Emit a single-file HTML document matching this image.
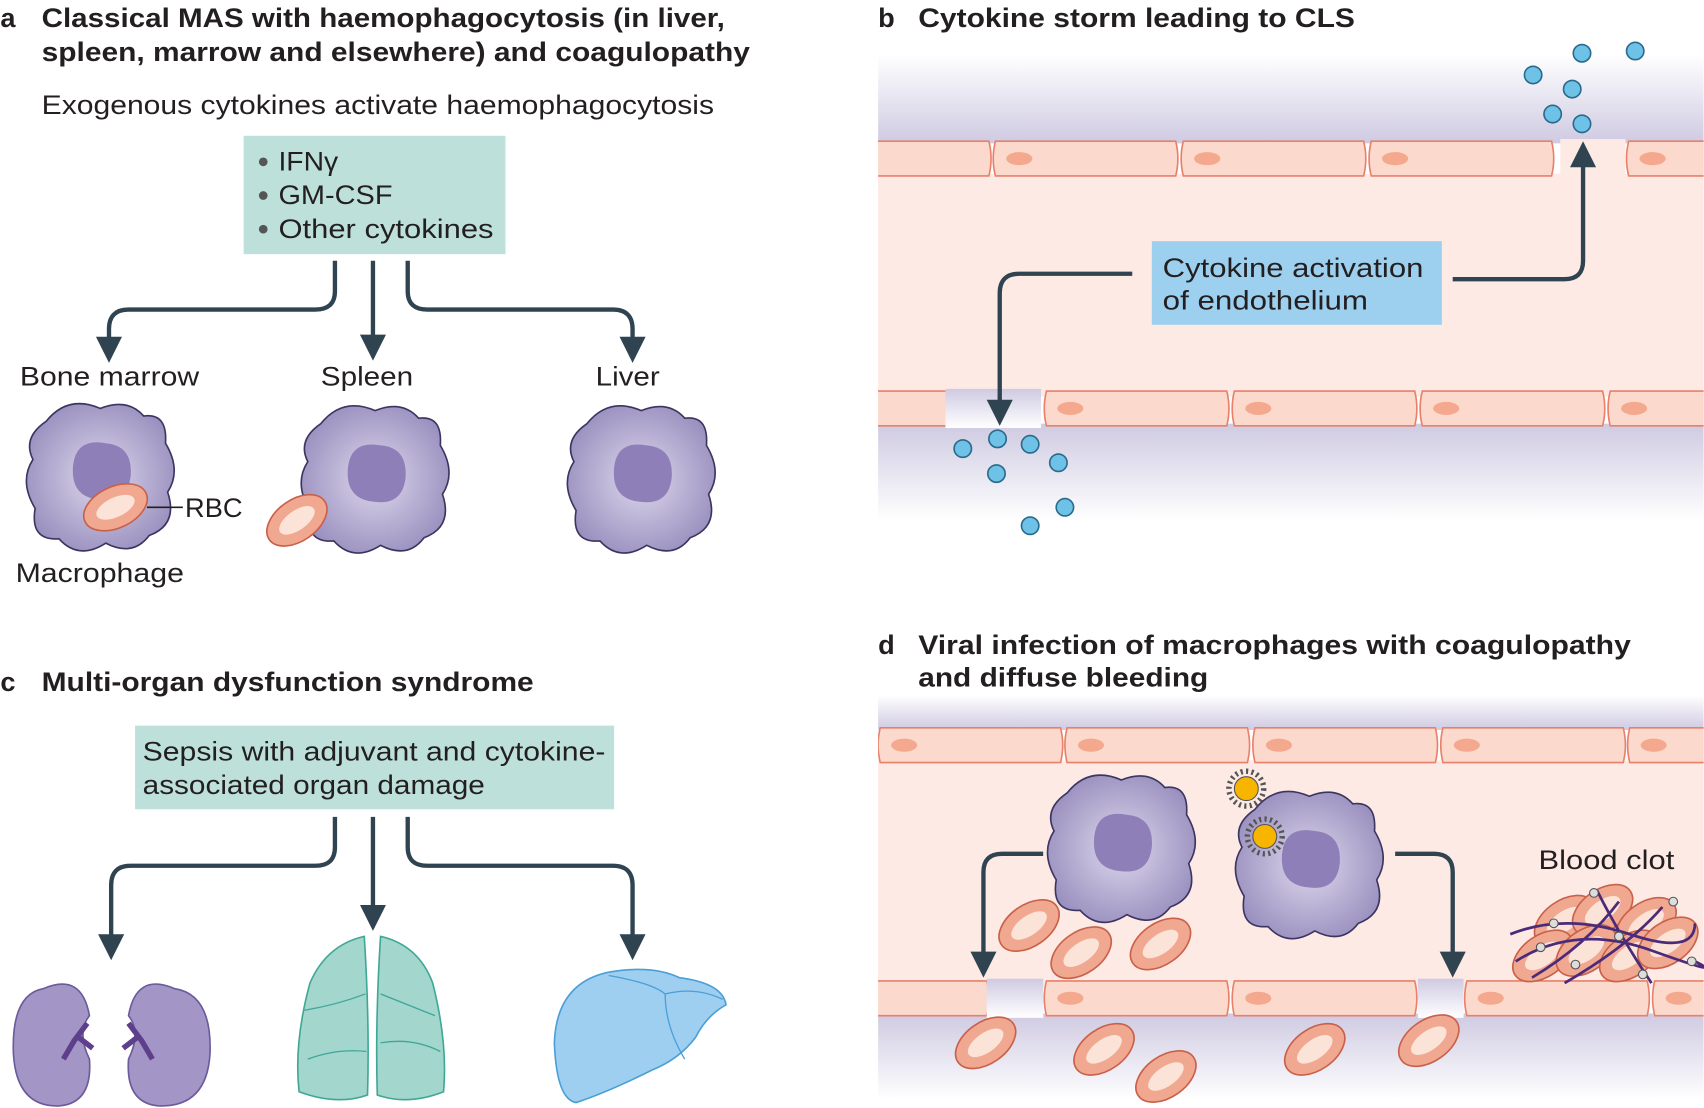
<!DOCTYPE html>
<html><head><meta charset="utf-8"><style>
html,body{margin:0;padding:0;background:#fff;width:1704px;height:1108px;overflow:hidden}
svg{display:block}
text{font-family:"Liberation Sans",sans-serif;fill:#231f20}
.t{font-size:25px;font-weight:bold}
.n{font-size:25px}
.ar{fill:none;stroke:#2f4450;stroke-width:4}
</style></head><body>
<svg width="1704" height="1108" viewBox="0 0 1568 1020" xmlns="http://www.w3.org/2000/svg">
<defs>
<clipPath id="vc"><rect x="808" y="0" width="760" height="1020"/></clipPath>
<radialGradient id="mg" cx="50%" cy="50%" r="55%"><stop offset="0" stop-color="#ddd8ec"/><stop offset="1" stop-color="#9a90bf"/></radialGradient>
<linearGradient id="topg" x1="0" y1="0" x2="0" y2="1"><stop offset="0" stop-color="#fff"/><stop offset="1" stop-color="#cfcae2"/></linearGradient>
<linearGradient id="botg" x1="0" y1="0" x2="0" y2="1"><stop offset="0" stop-color="#cfcae2"/><stop offset="1" stop-color="#fff"/></linearGradient>
<path id="blob" d="M-50,-50 Q-30,-75 0,-62 Q25,-72 40,-55 Q62,-58 60,-30 Q75,-5 62,15 Q72,45 45,55 Q30,75 5,62 Q-20,78 -38,58 Q-65,60 -60,30 Q-75,5 -62,-15 Q-72,-35 -50,-50Z" fill="url(#mg)" stroke="#3b3560" stroke-width="1.5"/>
<g id="mac"><use href="#blob"/><path d="M-25,-10 Q-22,-35 5,-30 Q30,-28 28,0 Q25,25 0,22 Q-28,20 -25,-10Z" fill="#8f7fb8"/></g>
<g id="rbc"><ellipse rx="31" ry="19" fill="#f0a890" stroke="#c9604a" stroke-width="1.5"/><ellipse rx="19" ry="9" fill="#fbe3d8"/></g>
<g id="cell"><path d="M2,0 H168 Q172,16 168,32 H2 Q-2,16 2,0Z" fill="#fbd9cc" stroke="#e8806a" stroke-width="1.5"/><ellipse cx="24" cy="16" rx="12" ry="6" fill="#f4a88e"/></g>
<g id="dot"><circle r="8" fill="#6ec2e8" stroke="#2a6a8a" stroke-width="1.5"/></g>
<g id="vir"><circle r="16" fill="none" stroke="#555" stroke-width="5" stroke-dasharray="2 3"/><circle r="11" fill="#f7b500" stroke="#555" stroke-width="1"/></g>
<marker id="ah" markerWidth="6" markerHeight="6" refX="3" refY="3" orient="auto" markerUnits="strokeWidth"><path d="M0,0 L6,3 L0,6Z" fill="#2f4450"/></marker>
</defs>

<!-- Panel a -->
<text x="0" y="25" class="t">a</text>
<text x="38" y="25" class="t" textLength="629" lengthAdjust="spacingAndGlyphs">Classical MAS with haemophagocytosis (in liver,</text>
<text x="38" y="56" class="t" textLength="652" lengthAdjust="spacingAndGlyphs">spleen, marrow and elsewhere) and coagulopathy</text>
<text x="38" y="105" class="n" textLength="619" lengthAdjust="spacingAndGlyphs">Exogenous cytokines activate haemophagocytosis</text>
<rect x="224" y="125" width="241" height="109" fill="#bde0da"/>
<circle cx="242" cy="149" r="4" fill="#555"/><circle cx="242" cy="180" r="4" fill="#555"/><circle cx="242" cy="211" r="4" fill="#555"/>
<text x="256" y="157" class="n" textLength="55" lengthAdjust="spacingAndGlyphs">IFNγ</text><text x="256" y="188" class="n" textLength="105" lengthAdjust="spacingAndGlyphs">GM-CSF</text><text x="256" y="219" class="n" textLength="198" lengthAdjust="spacingAndGlyphs">Other cytokines</text>
<path class="ar" d="M308,240 V268 Q308,285 290,285 H118 Q100,285 100,303 V322" marker-end="url(#ah)"/>
<path class="ar" d="M343,240 V320" marker-end="url(#ah)"/>
<path class="ar" d="M375,240 V268 Q375,285 393,285 H564 Q582,285 582,303 V322" marker-end="url(#ah)"/>
<text x="18" y="355" class="n" textLength="165" lengthAdjust="spacingAndGlyphs">Bone marrow</text><text x="295" y="355" class="n" textLength="85" lengthAdjust="spacingAndGlyphs">Spleen</text><text x="548" y="355" class="n" textLength="59" lengthAdjust="spacingAndGlyphs">Liver</text>
<use href="#mac" x="92" y="438"/>
<use href="#rbc" transform="translate(106,467) rotate(-25)"/>
<line x1="135" y1="467" x2="168" y2="467" stroke="#231f20" stroke-width="1.5"/>
<text x="170" y="476" class="n" textLength="53" lengthAdjust="spacingAndGlyphs">RBC</text>
<text x="14" y="536" class="n" textLength="155" lengthAdjust="spacingAndGlyphs">Macrophage</text>
<use href="#mac" x="345" y="440"/>
<use href="#rbc" transform="translate(273,479) rotate(-35)"/>
<use href="#mac" x="590" y="440"/>

<!-- Panel b -->
<text x="808" y="25" class="t">b</text>
<text x="845" y="25" class="t" textLength="402" lengthAdjust="spacingAndGlyphs">Cytokine storm leading to CLS</text>
<g clip-path="url(#vc)">
<rect x="808" y="50" width="760" height="82" fill="url(#topg)"/>
<rect x="808" y="390" width="760" height="90" fill="url(#botg)"/>
<rect x="808" y="160" width="760" height="205" fill="#fdeae4"/>
<use href="#cell" x="742" y="130"/><use href="#cell" x="914" y="130"/><use href="#cell" x="1087" y="130"/><use href="#cell" x="1260" y="130"/><use href="#cell" x="1497" y="130"/>
<rect x="1436" y="128" width="60" height="37" fill="#fdeae4"/>
<use href="#cell" x="760" y="360"/><use href="#cell" x="961" y="360"/><use href="#cell" x="1134" y="360"/><use href="#cell" x="1307" y="360"/><use href="#cell" x="1480" y="360"/>
<rect x="870" y="358" width="88" height="36" fill="url(#botg)"/>
</g>
<rect x="1060" y="222" width="267" height="77" fill="#9dd0ee"/>
<text x="1070" y="255" class="n" textLength="240" lengthAdjust="spacingAndGlyphs">Cytokine activation</text><text x="1070" y="285" class="n" textLength="189" lengthAdjust="spacingAndGlyphs">of endothelium</text>
<path class="ar" d="M1042,252 H938 Q920,252 920,270 V380" marker-end="url(#ah)"/>
<path class="ar" d="M1337,257 H1440 Q1457,257 1457,240 V142" marker-end="url(#ah)"/>
<use href="#dot" x="1456" y="49"/><use href="#dot" x="1505" y="47"/><use href="#dot" x="1411" y="69"/><use href="#dot" x="1447" y="82"/><use href="#dot" x="1429" y="105"/><use href="#dot" x="1456" y="114"/>
<use href="#dot" x="886" y="413"/><use href="#dot" x="918" y="404"/><use href="#dot" x="948" y="409"/><use href="#dot" x="974" y="426"/><use href="#dot" x="917" y="436"/><use href="#dot" x="980" y="467"/><use href="#dot" x="948" y="484"/>

<!-- Panel c -->
<text x="0" y="636" class="t">c</text>
<text x="38" y="636" class="t" textLength="453" lengthAdjust="spacingAndGlyphs">Multi-organ dysfunction syndrome</text>
<rect x="124" y="668" width="441" height="77" fill="#bde0da"/>
<text x="131" y="700" class="n" textLength="426" lengthAdjust="spacingAndGlyphs">Sepsis with adjuvant and cytokine-</text>
<text x="131" y="731" class="n" textLength="315" lengthAdjust="spacingAndGlyphs">associated organ damage</text>
<path class="ar" d="M308,752 V780 Q308,797 290,797 H120 Q102,797 102,815 V872" marker-end="url(#ah)"/>
<path class="ar" d="M343,752 V845" marker-end="url(#ah)"/>
<path class="ar" d="M375,752 V780 Q375,797 393,797 H564 Q582,797 582,815 V872" marker-end="url(#ah)"/>
<path d="M40,910 Q75,895 82,935 Q70,950 82,975 Q85,1015 55,1018 Q15,1020 12,970 Q10,915 40,910Z" fill="#a395c6" stroke="#6a5b9a" stroke-width="1.5"/>
<path d="M160,910 Q125,895 118,935 Q130,950 118,975 Q115,1015 145,1018 Q190,1020 193,970 Q195,915 160,910Z" fill="#a395c6" stroke="#6a5b9a" stroke-width="1.5"/>
<path d="M80,942 L68,958 L58,975 M72,955 L85,965 M118,942 L130,958 L140,975 M126,955 L113,965" stroke="#5e3f8c" stroke-width="5" fill="none"/>
<path d="M335,862 Q300,870 285,905 Q270,960 275,1005 Q310,1018 338,1008 Q340,940 335,862Z" fill="#a3d6cc" stroke="#3fa796" stroke-width="1.5"/>
<path d="M350,862 Q385,870 398,905 Q412,960 408,1005 Q375,1018 347,1008 Q345,940 350,862Z" fill="#a3d6cc" stroke="#3fa796" stroke-width="1.5"/>
<path d="M280,930 Q310,925 336,915 M283,975 Q310,965 337,968 M350,915 Q375,925 400,935 M350,960 Q380,955 405,968" fill="none" stroke="#3fa796" stroke-width="1.2"/>
<path d="M560,895 Q600,888 625,900 Q665,905 668,925 Q650,935 640,955 Q625,975 600,985 Q560,1005 530,1015 Q512,1012 510,960 Q512,905 560,895Z" fill="#9fcff0" stroke="#4a9fd6" stroke-width="1.5"/>
<path d="M560,898 Q600,905 612,915 Q612,945 630,975 M612,915 Q640,908 665,920" fill="none" stroke="#4a9fd6" stroke-width="1.2"/>

<!-- Panel d -->
<text x="808" y="602" class="t">d</text>
<text x="845" y="602" class="t" textLength="656" lengthAdjust="spacingAndGlyphs">Viral infection of macrophages with coagulopathy</text>
<text x="845" y="632" class="t" textLength="267" lengthAdjust="spacingAndGlyphs">and diffuse bleeding</text>
<g clip-path="url(#vc)">
<rect x="808" y="640" width="760" height="32" fill="url(#topg)"/>
<rect x="808" y="933" width="760" height="80" fill="url(#botg)"/>
<rect x="808" y="700" width="760" height="210" fill="#fdeae4"/>
<use href="#cell" x="808" y="670"/><use href="#cell" x="980" y="670"/><use href="#cell" x="1153" y="670"/><use href="#cell" x="1326" y="670"/><use href="#cell" x="1498" y="670"/>
<use href="#cell" x="740" y="903"/><use href="#cell" x="961" y="903"/><use href="#cell" x="1134" y="903"/><use href="#cell" x="1348" y="903"/><use href="#cell" x="1521" y="903"/>
<rect x="908" y="901" width="52" height="36" fill="url(#botg)"/><rect x="1305" y="901" width="42" height="36" fill="url(#botg)"/>
</g>
<use href="#mac" x="1032" y="780"/>
<use href="#mac" x="1205" y="795"/>
<use href="#vir" x="1147" y="726"/><use href="#vir" x="1164" y="770"/>
<path class="ar" d="M960,786 H922 Q905,786 905,803 V888" marker-end="url(#ah)"/>
<path class="ar" d="M1284,786 H1320 Q1337,786 1337,803 V888" marker-end="url(#ah)"/>
<use href="#rbc" transform="translate(947,852) rotate(-35)"/><use href="#rbc" transform="translate(995,877) rotate(-35)"/><use href="#rbc" transform="translate(1068,869) rotate(-35)"/>
<use href="#rbc" transform="translate(907,960) rotate(-35)"/><use href="#rbc" transform="translate(1016,966) rotate(-35)"/><use href="#rbc" transform="translate(1073,991) rotate(-35)"/><use href="#rbc" transform="translate(1210,966) rotate(-35)"/><use href="#rbc" transform="translate(1315,958) rotate(-35)"/>
<text x="1416" y="800" class="n" textLength="125" lengthAdjust="spacingAndGlyphs">Blood clot</text>
<g>
<use href="#rbc" transform="translate(1440,848) rotate(-35)"/><use href="#rbc" transform="translate(1475,838) rotate(-35)"/><use href="#rbc" transform="translate(1515,850) rotate(-35)"/>
<use href="#rbc" transform="translate(1420,880) rotate(-35)"/><use href="#rbc" transform="translate(1460,875) rotate(-35)"/><use href="#rbc" transform="translate(1500,880) rotate(-35)"/><use href="#rbc" transform="translate(1535,868) rotate(-35)"/>
<path d="M1390,860 Q1440,840 1500,860 T1560,850 M1395,885 Q1450,850 1520,875 T1560,885 M1410,900 Q1460,870 1490,830 M1470,820 Q1490,860 1520,905 M1530,835 Q1500,870 1440,905" fill="none" stroke="#4b2a7a" stroke-width="2.5"/>
<g fill="#ddd" stroke="#555"><circle cx="1430" cy="850" r="4"/><circle cx="1467" cy="822" r="4"/><circle cx="1490" cy="862" r="4"/><circle cx="1540" cy="830" r="4"/><circle cx="1418" cy="872" r="4"/><circle cx="1512" cy="897" r="4"/><circle cx="1557" cy="885" r="4"/><circle cx="1450" cy="888" r="4"/></g>
</g>
</svg>
</body></html>
